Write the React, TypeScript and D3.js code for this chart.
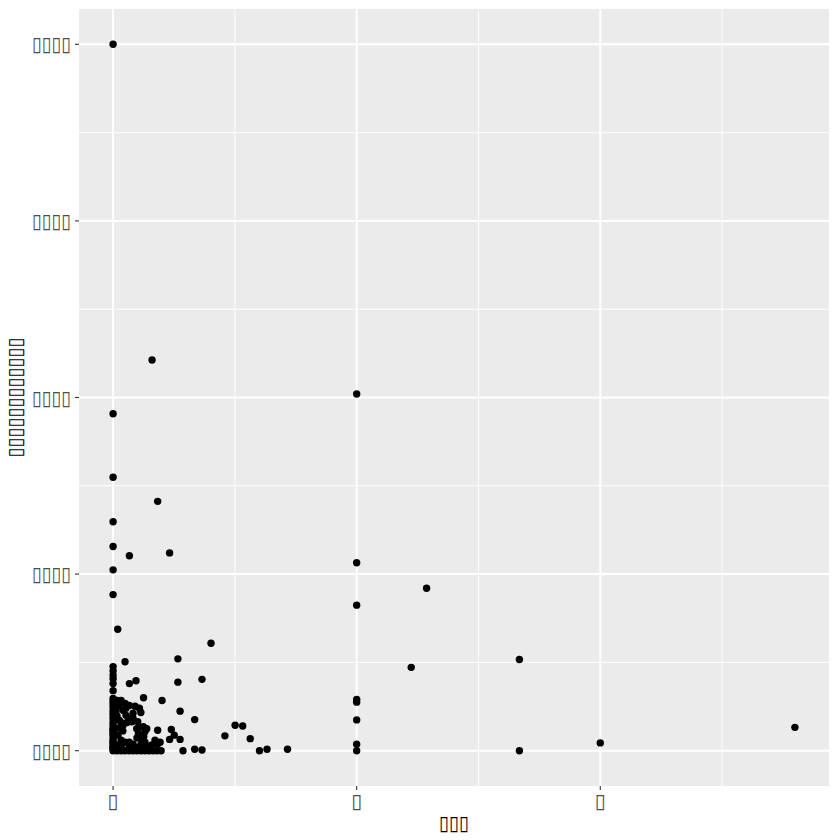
import React from "react";
import * as d3 from "d3";

// ---- data ----
const col0Y = [1.0, 0.477, 0.387, 0.324, 0.289, 0.256, 0.221, 0.119, 0.113, 0.107, 0.102, 0.095, 0.085, 0.074, 0.07, 0.066, 0.062, 0.057, 0.053, 0.049, 0.045, 0.04, 0.036, 0.032, 0.028, 0.023, 0.019, 0.015, 0.011, 0.006, 0.004, 0.0, 0.002, 0.008, 0.013, 0.025, 0.03];
const col1Y = [0.505, 0.266, 0.206, 0.0725, 0.0687, 0.0436, 0.0092, 0.0];
const otherX = [0.16, 0.183, 0.067, 0.232, 0.019, 0.402, 1.287, 1.224, 1.668, 1.668, 2.0, 2.799, 0.049, 0.266, 0.266, 0.365, 0.067, 0.094, 0.125, 0.201, 0.275, 0.335, 0.501, 0.532, 0.459, 0.563, 0.239, 0.251, 0.232, 0.275, 0.183, 0.182, 0.287, 0.335, 0.365, 0.601, 0.632, 0.716, 0.108, 0.114, 0.042, 0.053, 0.101, 0.124, 0.138, 0.107, 0.04, 0.126, 0.193, 0.068,
  0.016, 0.033, 0.02, 0.041, 0.025, 0.016, 0.033, 0.049, 0.066, 0.082, 0.098, 0.115, 0.131, 0.148, 0.077, 0.097, 0.104, 0.131, 0.172, 0.159, 0.025, 0.016, 0.012, 0.029, 0.053, 0.082,
  0.016, 0.033, 0.049, 0.066, 0.082, 0.098, 0.115, 0.131, 0.148, 0.164, 0.18, 0.197,
  0.033, 0.049, 0.066, 0.033, 0.057, 0.082, 0.098, 0.115, 0.131, 0.066, 0.016, 0.016, 0.09];
const otherY = [0.553, 0.353, 0.276, 0.28, 0.172, 0.152, 0.23, 0.118, 0.129, 0.0, 0.011, 0.033, 0.126, 0.13, 0.097, 0.101, 0.095, 0.099, 0.075, 0.071, 0.056, 0.044, 0.036, 0.035, 0.021, 0.017, 0.03, 0.022, 0.016, 0.016, 0.029, 0.009, 0.0, 0.002, 0.001, 0.0, 0.002, 0.002, 0.06, 0.054, 0.057, 0.06, 0.041, 0.034, 0.031, 0.033, 0.028, 0.02, 0.012, 0.045,
  0.008, 0.015, 0.022, 0.036, 0.043, 0.049, 0.006, 0.012, 0.005, 0.009, 0.005, 0.009, 0.004, 0.006, 0.041, 0.031, 0.024, 0.027, 0.015, 0.008, 0.064, 0.071, 0.056, 0.032, 0.05, 0.053,
  0, 0, 0, 0, 0, 0, 0, 0, 0, 0, 0, 0,
  0.071, 0.067, 0.064, 0.04, 0.04, 0.046, 0.018, 0.018, 0.012, 0.012, 0.032, 0.062, 0.063];

const xTicks = [0, 1, 2];
const xMinorTicks = [0.5, 1.5, 2.5];
const yTicks = [0, 0.25, 0.5, 0.75, 1];
const yMinorTicks = [0.125, 0.375, 0.625, 0.875];
const xTickLabels = ["▯", "▯", "▯"];
const yTickLabels = ["▯▯▯▯", "▯▯▯▯", "▯▯▯▯", "▯▯▯▯", "▯▯▯▯"];
const xTitle = "▯▯▯";
const yTitle = "▯▯▯▯▯▯▯▯▯▯▯▯";

type P = { x: number; y: number };
const points: P[] = [
  ...col0Y.map((y) => ({ x: 0, y })),
  ...col1Y.map((y) => ({ x: 1, y })),
  ...otherX.map((x, i) => ({ x, y: otherY[i] })),
];

export default function App() {
  const W = 840, H = 840;
  const pl = 79, pr = 829, pt = 9, pb = 786;
  const xExt = d3.extent(points, (d) => d.x) as [number, number];
  const yExt = d3.extent(points, (d) => d.y) as [number, number];
  const xr = xExt[1] - xExt[0];
  const yr = yExt[1] - yExt[0];
  const x = d3.scaleLinear().domain([xExt[0] - 0.05 * xr, xExt[1] + 0.05 * xr]).range([pl, pr]);
  const y = d3.scaleLinear().domain([yExt[0] - 0.05 * yr, yExt[1] + 0.05 * yr]).range([pb, pt]);
  const font = "'DejaVu Sans', sans-serif";
  return (
    <svg width={W} height={H} style={{ position: "absolute", left: 0, top: 0, background: "#fff" }}>
      <rect x={pl} y={pt} width={pr - pl} height={pb - pt} fill="#EBEBEB" />
      {xMinorTicks.map((t) => (
        <line key={"xm" + t} x1={x(t)} x2={x(t)} y1={pt} y2={pb} stroke="#fff" strokeWidth={1} />
      ))}
      {yMinorTicks.map((t) => (
        <line key={"ym" + t} x1={pl} x2={pr} y1={y(t)} y2={y(t)} stroke="#fff" strokeWidth={1} />
      ))}
      {xTicks.map((t) => (
        <line key={"xg" + t} x1={x(t)} x2={x(t)} y1={pt} y2={pb} stroke="#fff" strokeWidth={2} />
      ))}
      {yTicks.map((t) => (
        <line key={"yg" + t} x1={pl} x2={pr} y1={y(t)} y2={y(t)} stroke="#fff" strokeWidth={2} />
      ))}
      {points.map((d, i) => (
        <circle key={i} cx={x(d.x)} cy={y(d.y)} r={3.7} fill="#000" />
      ))}
      {yTicks.map((t, i) => (
        <g key={"yt" + t}>
          <line x1={pl - 4} x2={pl} y1={y(t)} y2={y(t)} stroke="#333" strokeWidth={1.1} />
          <text x={71} y={y(t)} dy="0.35em" textAnchor="end" fontFamily={font} fontSize={20} fill="#4D4D4D"
            textLength={39} lengthAdjust="spacingAndGlyphs">{yTickLabels[i]}</text>
        </g>
      ))}
      {xTicks.map((t, i) => (
        <g key={"xt" + t}>
          <line x1={x(t)} x2={x(t)} y1={pb} y2={pb + 4} stroke="#333" strokeWidth={1.1} />
          <text x={x(t)} y={801} dy="0.35em" textAnchor="middle" fontFamily={font} fontSize={20} fill="#4D4D4D">{xTickLabels[i]}</text>
        </g>
      ))}
      <text x={(pl + pr) / 2} y={823} dy="0.35em" textAnchor="middle" fontFamily={font} fontSize={20} fill="#000"
        textLength={30} lengthAdjust="spacingAndGlyphs">{xTitle}</text>
      <text transform={`translate(15,${(pt + pb) / 2}) rotate(-90)`} dy="0.35em" textAnchor="middle" fontFamily={font} fontSize={20} fill="#000"
        textLength={120} lengthAdjust="spacingAndGlyphs">{yTitle}</text>
    </svg>
  );
}
